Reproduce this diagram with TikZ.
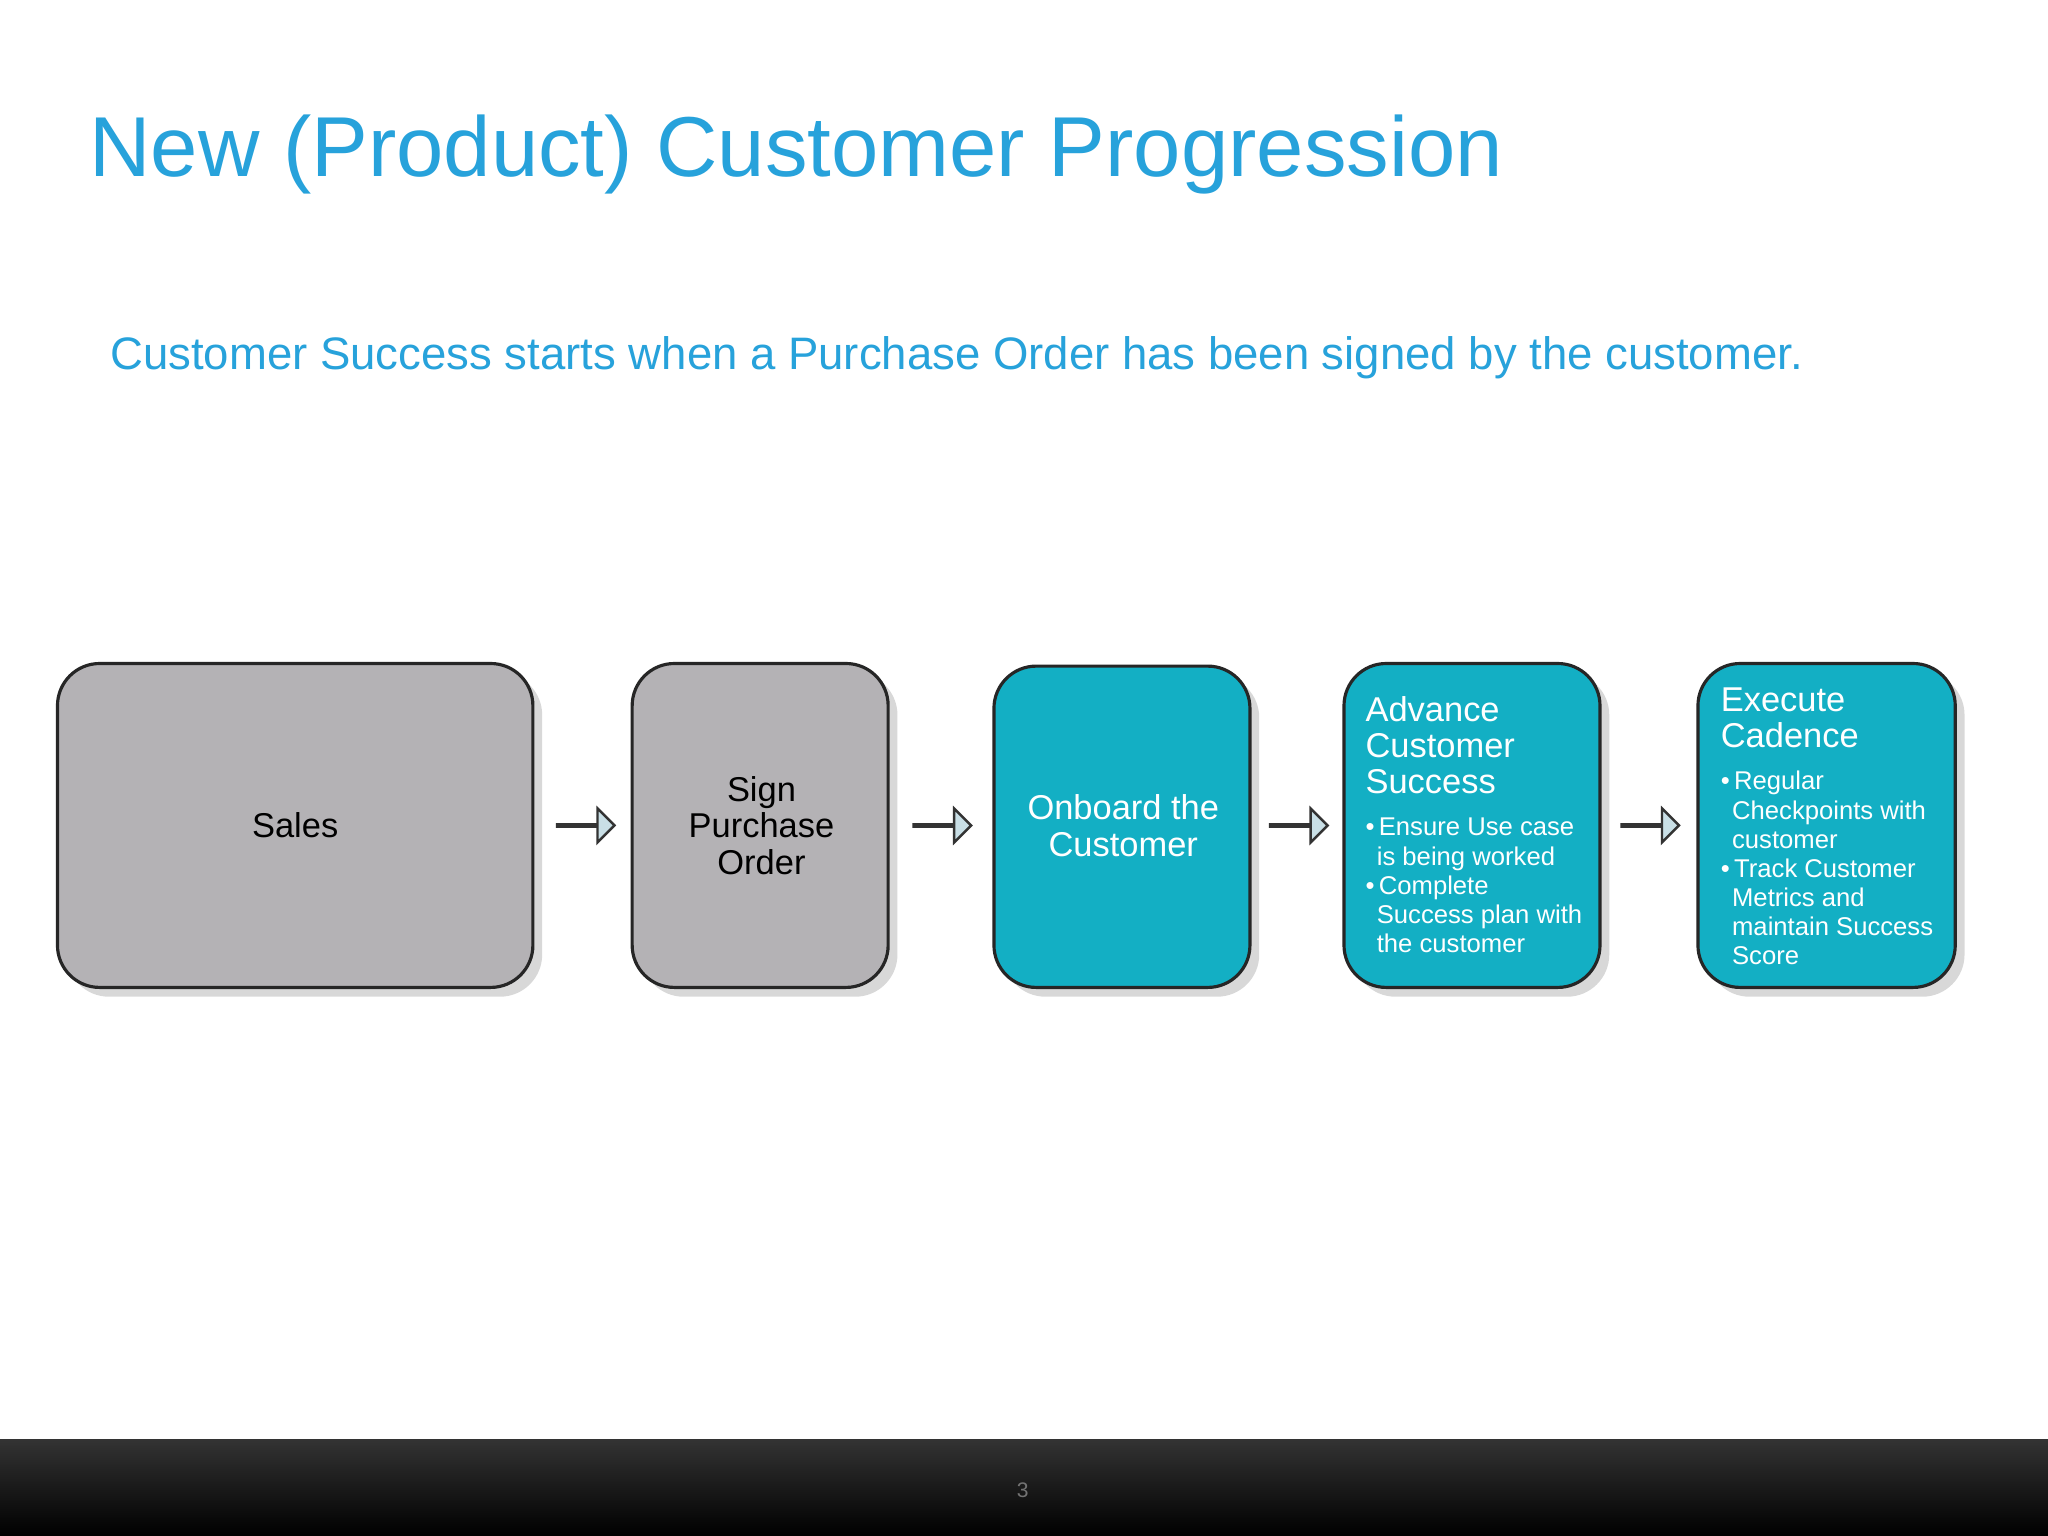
\documentclass[tikz,border=0pt]{standalone}
\usepackage{fontspec}
\setmainfont{Liberation Sans}
\usetikzlibrary{shapes.arrows,shadows}
\definecolor{ttl}{HTML}{27A2DB}
\definecolor{teal}{HTML}{13AFC4}
\definecolor{gry}{HTML}{B4B2B5}
\definecolor{arr}{HTML}{C9DFE6}
\newlength{\pxu}\setlength{\pxu}{0.013061cm}
\tikzset{
 box/.style={draw=black!85,line width=0.9pt,rounded corners=12pt,drop shadow={opacity=0.3}},
 gbox/.style={box,fill=gry},
 tbox/.style={box,fill=teal},
 flow/.style={single arrow,draw=black!80,fill=arr,line width=0.7pt,minimum height=44\pxu,single arrow head extend=12\pxu,minimum width=26\pxu,inner sep=0pt},
}
\begin{document}
\begin{tikzpicture}[x=\pxu,y=-\pxu]
\useasboundingbox (0,0) rectangle (1568,1176);
\fill[white] (0,0) rectangle (1568,1176);
\shade[top color=black!80,bottom color=black] (0,1102) rectangle (1568,1176);
\node[text=black!55,font=\fontsize{6}{7}\selectfont] (pg) at (783,1141) {3};
\node[anchor=base west,inner sep=0,text=ttl,font=\fontsize{24.2}{29}\selectfont] (title) at (68,135) {New (Product) Customer Progression};
\node[anchor=base west,inner sep=0,text=ttl,font=\fontsize{12.95}{15}\selectfont] (sub) at (84,283) {Customer Success starts when a Purchase Order has been signed by the customer.};
\begin{scope}[font=\fontsize{9.8}{10.4}\selectfont]
\draw[gbox] (44,508) rectangle (408,756);
\node (sales) at (226,632) {Sales};
\draw[gbox] (484,508) rectangle (680,756);
\node[align=center] (sign) at (583,632) {Sign\\Purchase\\Order};
\draw[tbox] (761,510) rectangle (957,756);
\node[align=center,text=white] (onb) at (860,632) {Onboard the\\Customer};
\draw[tbox] (1029,508) rectangle (1225,756);
\draw[tbox] (1300,508) rectangle (1497,756);
\end{scope}
\node[anchor=north west,text=white,inner sep=0,align=left,font=\fontsize{9.8}{10.2}\selectfont] (adv) at (1045,533) {Advance\\Customer\\Success};
\node[anchor=north west,text=white,inner sep=0,align=left,font=\fontsize{7.3}{8.3}\selectfont] (advb) at (1045,626) {%
\textbullet\,Ensure Use case\\\hspace*{3.2pt}is being worked\\\textbullet\,Complete\\\hspace*{3.2pt}Success plan with\\\hspace*{3.2pt}the customer};
\node[anchor=north west,text=white,inner sep=0,align=left,font=\fontsize{9.8}{10.2}\selectfont] (exe) at (1317,526) {Execute\\Cadence};
\node[anchor=north west,text=white,inner sep=0,align=left,font=\fontsize{7.3}{8.3}\selectfont] (exeb) at (1317,590) {%
\textbullet\,Regular\\\hspace*{3.2pt}Checkpoints with\\\hspace*{3.2pt}customer\\\textbullet\,Track Customer\\\hspace*{3.2pt}Metrics and\\\hspace*{3.2pt}maintain Success\\\hspace*{3.2pt}Score};
\node[flow] (a1) at (448,632) {};
\node[flow] (a2) at (721,632) {};
\node[flow] (a3) at (994,632) {};
\node[flow] (a4) at (1263,632) {};
\end{tikzpicture}
\end{document}
